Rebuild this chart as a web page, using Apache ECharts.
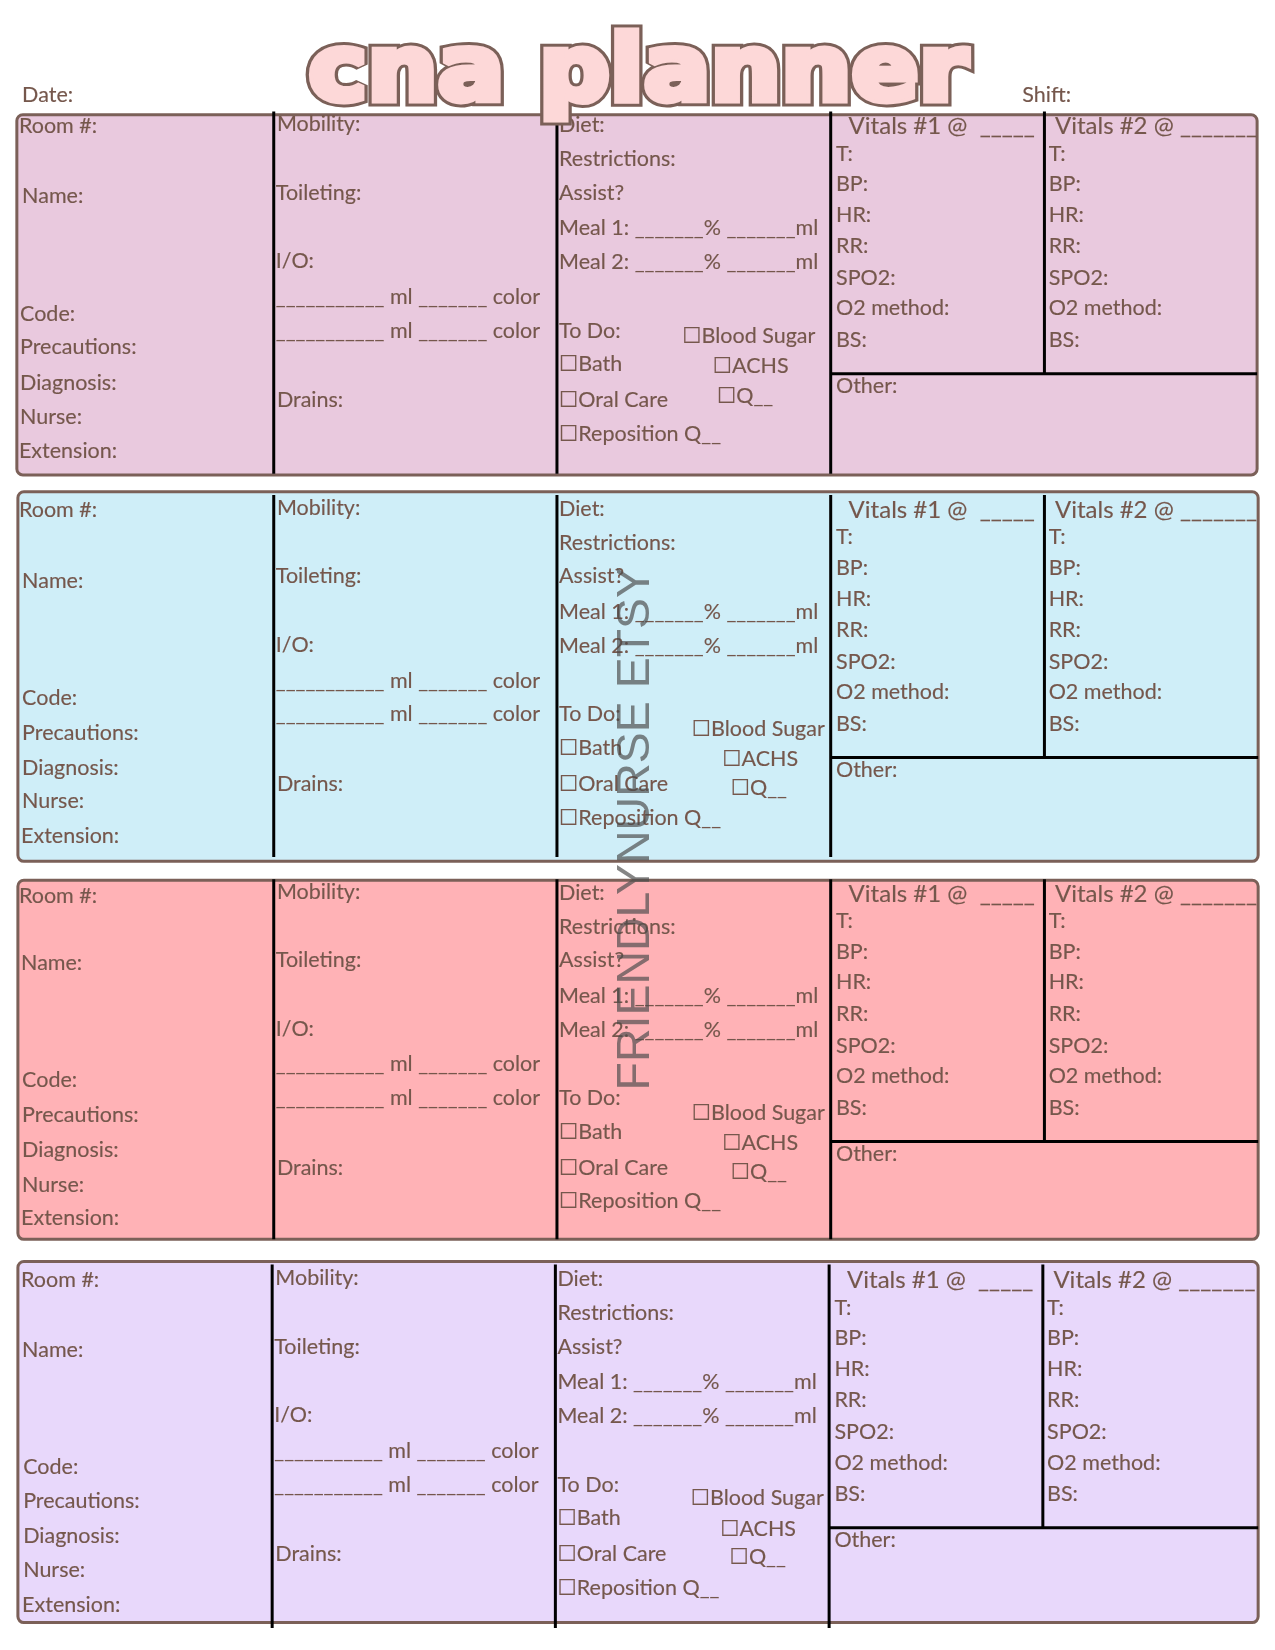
<!DOCTYPE html>
<html>
<head>
<meta charset="utf-8">
<style>html,body{margin:0;padding:0;background:#fff}#main{width:1275px;height:1650px}</style>
<script src="https://cdn.jsdelivr.net/npm/echarts@6/dist/echarts.min.js"></script>
</head>
<body>
<div id="main"></div>
<script>
// sheet units on both axes
var sheetWidth = 1211, sheetHeight = 1567;

var cardFills = ['#e9c9de', '#cfeef8', '#ffb2b6', '#e8d8fb'];
var cardTops = [109, 467, 836, 1198];
var cardBottoms = [451, 818, 1177, 1541];
var cardLefts = [16, 17, 17, 17];
var cardRights = [1194, 1195, 1195, 1195];
var lineTops = [106, 470, 835, 1201];
var lineBottoms = [450, 814, 1177, 1546];
var rowShift = [0, 364.5, 729, 1096];
var colShift = [0, 0, 0, -1.5];

var dividerX = [260, 529, 789];
var vitalsSplitX = 992;
var otherLineY = 355;

var roomLabels = ['Room #:', 'Name:', 'Code:', 'Precautions:', 'Diagnosis:', 'Nurse:', 'Extension:'];
var roomY = [
  [120, 186, 298, 330, 364, 396, 428],
  [484, 552, 663, 696, 729, 761, 794],
  [851, 915, 1026, 1059, 1092, 1125, 1157],
  [1216, 1282, 1393, 1426, 1459, 1491, 1524]
];
var roomX = [
  [18, 21, 19, 19, 19, 19, 18],
  [18, 21, 21, 21, 21, 21, 20],
  [18, 20, 21, 21, 21, 21, 20],
  [20, 21, 22, 22, 22, 22, 21]
];

var careLabels = ['Mobility:', 'Toileting:', 'I/O:', '___________ ml _______ color', '___________ ml _______ color', 'Drains:'];
var careX = [263, 262, 262, 262, 262, 263];
var careY = [118, 183, 248, 282, 314, 380];

var dietLabels = ['Diet:', 'Restrictions:', 'Assist?', 'Meal 1: _______% _______ml', 'Meal 2: _______% _______ml', 'To Do:', '☐Bath', '☐Oral Care', '☐Reposition Q__'];
var dietX = [531, 531, 531, 531, 531, 531, 531, 531, 531];
var dietY = [119, 151, 183, 217, 249, 314, 346, 380, 412];

var checkLabels = ['☐Blood Sugar', '☐ACHS', '☐Q__'];
var checkX = [
  [648, 677, 681],
  [657, 686, 694],
  [657, 686, 694],
  [656, 684, 693]
];
var checkY = [
  [319, 348, 376],
  [692, 721, 748],
  [1057, 1086, 1113],
  [1423, 1452, 1479]
];

var vitalsHeads = ['Vitals #1 @  _____', 'Vitals #2 @ _______'];
var vitalsHeadX = [806, 1002];
var vitalsHeadY = 120;
var vitalsLabels = ['T:', 'BP:', 'HR:', 'RR:', 'SPO2:', 'O2 method:', 'BS:'];
var vitalsX = [794, 996];
var vitalsY = [146, 175, 204, 234, 264, 293, 323];
var otherLabel = 'Other:';
var otherPos = [794, 367];

var titleText = 'cna planner';
var titlePos = [606, 30];
var headerLabels = ['Date:', 'Shift:'];
var headerX = [21, 971];
var headerY = 90;
var watermarkText = 'FRIENDLYNURSE ETSY';
var watermarkPos = [604, 787];

var inkColor = '#75574c';
var borderColor = '#7b6058';

// work out all the labels per card
var labelRows = [];
function addLabel(x, y, text, size) {
  labelRows.push({ value: [x, y], text: text, size: size || 21.5 });
}
headerLabels.forEach(function (t, i) { addLabel(headerX[i], headerY, t); });
cardFills.forEach(function (f, c) {
  var dx = colShift[c], dy = rowShift[c];
  roomLabels.forEach(function (t, i) { addLabel(roomX[c][i], roomY[c][i], t); });
  careLabels.forEach(function (t, i) { addLabel(careX[i] + dx, careY[i] + dy, t); });
  dietLabels.forEach(function (t, i) { addLabel(dietX[i] + dx, dietY[i] + dy, t); });
  checkLabels.forEach(function (t, i) { addLabel(checkX[c][i], checkY[c][i], t); });
  vitalsHeads.forEach(function (t, i) { addLabel(vitalsHeadX[i] + dx, vitalsHeadY + dy, t, 24); });
  vitalsX.forEach(function (vx) {
    vitalsLabels.forEach(function (t, i) { addLabel(vx + dx, vitalsY[i] + dy, t); });
  });
  addLabel(otherPos[0] + dx, otherPos[1] + dy, otherLabel);
});

// divider segments, black lines inside every card
var dividerRows = [];
cardFills.forEach(function (f, c) {
  var dx = colShift[c], dy = rowShift[c];
  dividerX.forEach(function (x) {
    dividerRows.push([x + dx, lineTops[c], x + dx, lineBottoms[c]]);
  });
  dividerRows.push([vitalsSplitX + dx, lineTops[c], vitalsSplitX + dx, otherLineY + dy]);
  dividerRows.push([dividerX[2] + dx, otherLineY + dy, cardRights[c], otherLineY + dy]);
});

var cardRows = cardFills.map(function (f, c) {
  return [cardLefts[c], cardTops[c], cardRights[c], cardBottoms[c]];
});

var myChart = echarts.init(document.getElementById('main'), null, { renderer: 'canvas' });
var option = {
  animation: false,
  backgroundColor: '#ffffff',
  grid: { left: 0, right: 0, top: 0, bottom: 0 },
  xAxis: { type: 'value', min: 0, max: sheetWidth, show: false },
  yAxis: { type: 'value', min: 0, max: sheetHeight, inverse: true, show: false },
  series: [
    {
      name: 'cards',
      type: 'custom',
      clip: false,
      z: 1,
      data: cardRows,
      encode: { x: [0, 2], y: [1, 3] },
      renderItem: function (params, api) {
        var a = api.coord([api.value(0), api.value(1)]);
        var b = api.coord([api.value(2), api.value(3)]);
        return {
          type: 'rect',
          shape: { x: a[0], y: a[1], width: b[0] - a[0], height: b[1] - a[1], r: 6 },
          style: { fill: cardFills[params.dataIndex], stroke: borderColor, lineWidth: 3 }
        };
      }
    },
    {
      name: 'dividers',
      type: 'custom',
      clip: false,
      z: 2,
      data: dividerRows,
      encode: { x: [0, 2], y: [1, 3] },
      renderItem: function (params, api) {
        var a = api.coord([api.value(0), api.value(1)]);
        var b = api.coord([api.value(2), api.value(3)]);
        return {
          type: 'line',
          shape: { x1: a[0], y1: a[1], x2: b[0], y2: b[1] },
          style: { stroke: '#000000', lineWidth: 3 }
        };
      }
    },
    {
      name: 'labels',
      type: 'custom',
      clip: false,
      z: 3,
      data: labelRows,
      encode: { x: 0, y: 1 },
      renderItem: function (params, api) {
        var p = api.coord([api.value(0), api.value(1)]);
        var row = labelRows[params.dataIndex];
        return {
          type: 'text',
          x: p[0],
          y: p[1],
          style: {
            text: row.text,
            fill: inkColor,
            stroke: inkColor,
            lineWidth: 0.15,
            font: row.size + 'px Lato, "DejaVu Sans", sans-serif',
            textAlign: 'left',
            textVerticalAlign: 'middle'
          }
        };
      }
    },
    {
      name: 'watermark',
      type: 'custom',
      clip: false,
      z: 4,
      data: [watermarkPos],
      encode: { x: 0, y: 1 },
      renderItem: function (params, api) {
        var p = api.coord([api.value(0), api.value(1)]);
        return {
          type: 'text',
          x: p[0],
          y: p[1],
          rotation: Math.PI / 2,
          style: {
            text: watermarkText,
            fill: 'rgba(75,75,75,0.68)',
            font: '46.5px "Liberation Sans", sans-serif',
            textAlign: 'center',
            textVerticalAlign: 'middle'
          }
        };
      }
    },
    {
      name: 'title',
      type: 'custom',
      clip: false,
      z: 5,
      data: [titlePos],
      encode: { x: 0, y: 1 },
      renderItem: function (params, api) {
        var p = api.coord([api.value(0), api.value(1)]);
        var layer = function (stroke, width) {
          return {
            type: 'text',
            x: p[0],
            y: p[1],
            scaleX: 1.1,
            style: {
              text: titleText,
              fill: '#fdd8d8',
              stroke: stroke,
              lineWidth: width,
              lineJoin: 'round',
              font: 'bold 90px "DejaVu Sans", sans-serif',
              textAlign: 'center',
              textVerticalAlign: 'top'
            }
          };
        };
        return {
          type: 'group',
          children: [layer(borderColor, 13), layer('#fdd8d8', 7)]
        };
      }
    }
  ]
};
myChart.setOption(option);
</script>
</body>
</html>
